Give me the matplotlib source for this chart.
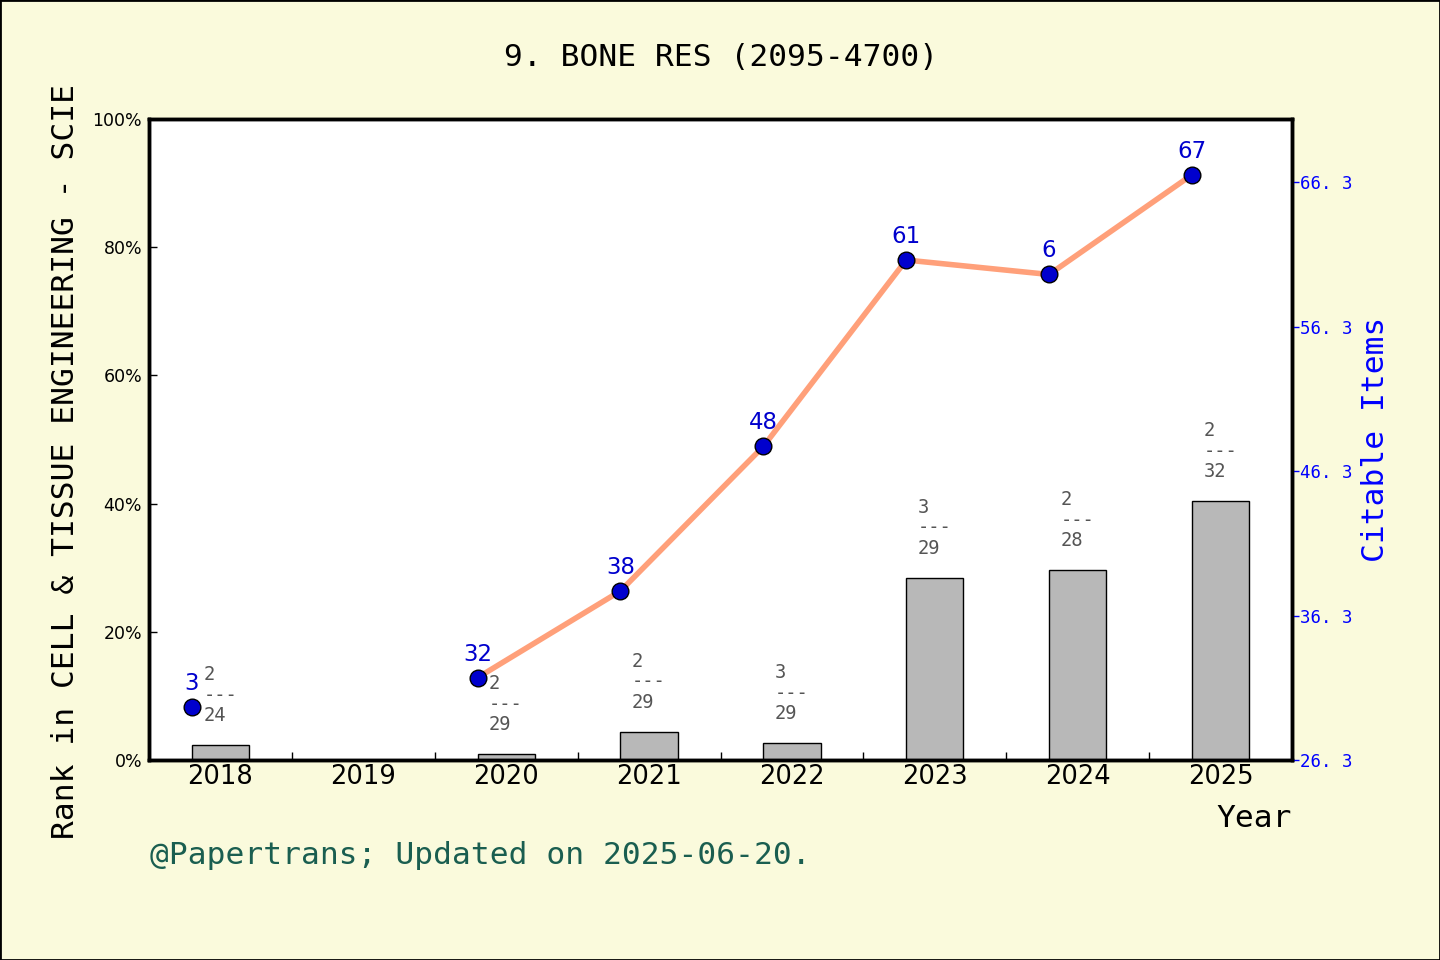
import matplotlib
matplotlib.use("Agg")
import matplotlib.pyplot as plt
import numpy as np

# ---- data ----
years = ["2018", "2019", "2020", "2021", "2022", "2023", "2024", "2025"]
rank_pct = [2.3, 0.0, 0.9, 4.4, 2.6, 28.4, 29.6, 40.4]
rank_labels = ["2\n---\n24", None, "2\n---\n29", "2\n---\n29", "3\n---\n29",
               "3\n---\n29", "2\n---\n28", "2\n---\n32"]
citable = [30.0, np.nan, 32.0, 38.0, 48.0, 60.9, 59.9, 66.8]
citable_labels = ["3", None, "32", "38", "48", "61", "6", "67"]
right_ticks = [26.3, 36.3, 46.3, 56.3, 66.3]
left_ticks = [0, 20, 40, 60, 80, 100]

title = "9. BONE RES (2095-4700)"
ylabel_left = "Rank in CELL & TISSUE ENGINEERING - SCIE"
ylabel_right = "Citable Items"
footer = "@Papertrans; Updated on 2025-06-20."

BG = "#FAFADC"
MONO = "DejaVu Sans Mono"

fig = plt.figure(figsize=(14.4, 9.6), dpi=100, facecolor=BG)
fig.patches.append(plt.Rectangle((0, 0), 1, 1, transform=fig.transFigure,
                                 fill=False, edgecolor="black", linewidth=2))
ax = fig.add_axes([149/1440, 1-760/960, (1292-149)/1440, (760-119)/960])
ax.set_facecolor("white")
x = np.arange(len(years))
bw = 0.4

ax.bar(x, rank_pct, width=bw, color="#B8B8B8", edgecolor="black", linewidth=1, zorder=2)
ax.set_xlim(-0.5, len(years)-0.5)
ax.set_ylim(0, 100)
ax.set_yticks(left_ticks)
ax.set_yticklabels([f"{t}%" for t in left_ticks], fontsize=12.5)
ax.tick_params(axis="y", direction="in", length=6, width=1, pad=5)
ax.set_xticks(x)
ax.set_xticklabels(years, fontsize=18.5)
ax.tick_params(axis="x", which="major", length=0, pad=3)
ax.set_xticks(x[:-1] + 0.5, minor=True)
ax.tick_params(axis="x", which="minor", direction="in", length=6, width=1)
for s in ax.spines.values():
    s.set_linewidth(2.5)

for xi, h, lab in zip(x, rank_pct, rank_labels):
    if lab is None:
        continue
    ax.annotate(lab, (xi - 0.12, h), xytext=(0, 20), textcoords="offset pixels",
                ha="left", va="bottom", fontsize=13.5, color="#555555",
                family=MONO, linespacing=1.1, zorder=3)

ax.set_ylabel(ylabel_left, family=MONO, fontsize=22.5)
ax.yaxis.set_label_coords(-0.060, 0.466)
ax.text(1.0, -0.068, "Year", transform=ax.transAxes, ha="right", va="top",
        family=MONO, fontsize=22.5)

ax2 = ax.twinx()
ax2.set_ylim(26.3, 70.66)
xl = x - bw / 2
ax2.plot(xl, citable, color="#FFA07A", linewidth=4, zorder=3)
ax2.plot(xl, citable, linestyle="none", marker="o", markersize=12,
         markerfacecolor="#0000CD", markeredgecolor="black", markeredgewidth=1, zorder=4)
for xi, v, lab in zip(xl, citable, citable_labels):
    if lab is None:
        continue
    ax2.annotate(lab, (xi, v), xytext=(0, 12), textcoords="offset pixels",
                 ha="center", va="bottom", fontsize=16.5, color="#0000CD", zorder=5)
ax2.set_yticks(right_ticks)
ax2.set_yticklabels([f"{t:.1f}".replace(".", ". ") for t in right_ticks],
                    family=MONO, fontsize=12.5, color="blue")
ax2.tick_params(axis="y", direction="out", length=5, width=1, color="blue", pad=1)
ax2.set_ylabel(ylabel_right, family=MONO, fontsize=22.5, color="blue", labelpad=6)
for s in ax2.spines.values():
    s.set_linewidth(2.5)

fig.text(721/1440, 1-57/960, title, ha="center", va="center", family=MONO, fontsize=22.5)
fig.text(150/1440, 1-855/960, footer, ha="left", va="center", family=MONO,
         fontsize=22.5, color="#1A5E50")

fig.savefig("out.png", dpi=100, facecolor=BG)
